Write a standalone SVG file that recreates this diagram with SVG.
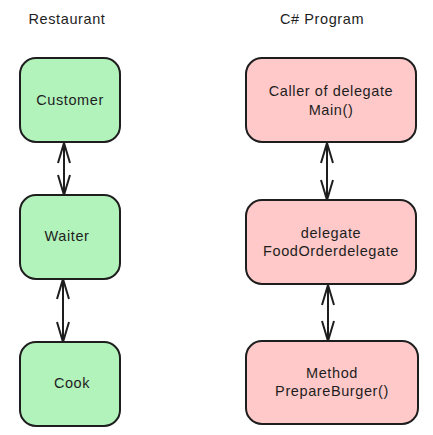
<svg xmlns="http://www.w3.org/2000/svg" width="433" height="435" viewBox="0 0 433 435">
<style>
text{font-family:"Liberation Sans","DejaVu Sans",sans-serif;font-size:14.5px;letter-spacing:0.6px;fill:#1e1e1e;text-anchor:middle}
.g{fill:#b2f2bb;stroke:#1e1e1e;stroke-width:2}
.r{fill:#ffc9c9;stroke:#1e1e1e;stroke-width:2}
.c{stroke:#1e1e1e;stroke-width:2;fill:none;marker-start:url(#ah);marker-end:url(#ah)}
</style>
<defs>
<marker id="ah" viewBox="0 0 22 20" refX="22" refY="10" markerWidth="22" markerHeight="20" markerUnits="userSpaceOnUse" orient="auto-start-reverse">
<path d="M2,4 L22,10 L2,16" fill="none" stroke="#1e1e1e" stroke-width="2"/>
</marker>
</defs>
<text x="67" y="24">Restaurant</text>
<text x="322" y="24">C# Program</text>
<g id="connectors">
<line class="c" x1="64" y1="143" x2="64" y2="195"/>
<line class="c" x1="63" y1="279" x2="63" y2="342"/>
<line class="c" x1="327" y1="143" x2="327" y2="200"/>
<line class="c" x1="328" y1="285" x2="328" y2="341"/>
</g>
<g id="customer"><rect class="g" x="20" y="58" width="100" height="84" rx="16"/><text x="70" y="105">Customer</text></g>
<g id="waiter"><rect class="g" x="20" y="195" width="100" height="84" rx="16"/><text x="67" y="241">Waiter</text></g>
<g id="cook"><rect class="g" x="20" y="342" width="100" height="84" rx="16"/><text x="72" y="388">Cook</text></g>
<g id="caller"><rect class="r" x="246" y="58" width="170" height="84" rx="16"/><text x="331" y="96">Caller of delegate</text><text x="331" y="115">Main()</text></g>
<g id="delegate"><rect class="r" x="246" y="200" width="170" height="84" rx="16"/><text x="331" y="238">delegate</text><text x="331" y="256">FoodOrderdelegate</text></g>
<g id="method"><rect class="r" x="246" y="341" width="172" height="83" rx="16"/><text x="332" y="378">Method</text><text x="332" y="396">PrepareBurger()</text></g>
</svg>
